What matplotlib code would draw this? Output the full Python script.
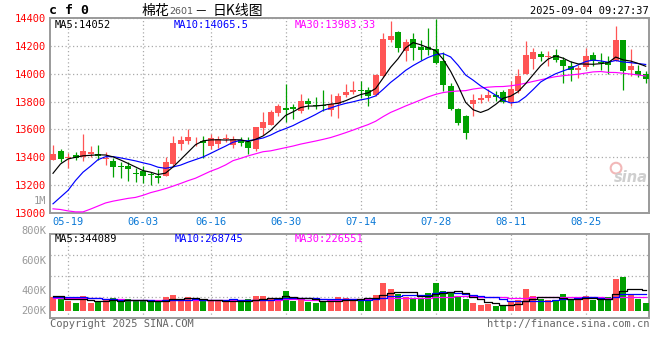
import matplotlib
matplotlib.use("Agg")
import matplotlib.pyplot as plt
import numpy as np
import pandas as pd

# ---------------- data ----------------
opens = [13383, 13445, 13393, 13416, 13400, 13421, 13424, 13386, 13374, 13340,
         13340, 13288, 13305, 13281, 13264, 13269, 13352, 13495, 13519, 13514,
         13519, 13481, 13498, 13529, 13490, 13524, 13507, 13459, 13609, 13633,
         13721, 13757, 13762, 13731, 13807, 13776, 13771, 13738, 13786, 13845,
         13869, 13883, 13886, 13850, 13981, 14243, 14302, 14164, 14250, 14195,
         14195, 14176, 14088, 13910, 13750, 13695, 13781, 13812, 13829, 13845,
         13869, 13797, 13879, 13998, 14107, 14143, 14117, 14136, 14100, 14057,
         14029, 14045, 14136, 14083, 14083, 14093, 14243, 14029, 14017, 13998]
highs = [13488, 13459, 13431, 13440, 13566, 13478, 13488, 13436, 13393, 13364,
         13364, 13321, 13336, 13293, 13316, 13400, 13554, 13554, 13602, 13547,
         13554, 13566, 13550, 13566, 13554, 13547, 13543, 13620, 13726, 13740,
         13783, 13924, 13786, 13852, 13829, 13836, 13881, 13852, 13859, 13924,
         13950, 13945, 13902, 14000, 14291, 14379, 14310, 14250, 14291, 14243,
         14331, 14390, 14159, 13933, 13752, 13702, 13852, 13852, 13893, 13876,
         13881, 13947, 14031, 14236, 14183, 14164, 14164, 14174, 14117, 14088,
         14064, 14183, 14155, 14148, 14124, 14343, 14245, 14174, 14064, 14017]
lows = [13380, 13369, 13326, 13383, 13376, 13400, 13383, 13345, 13260, 13250,
        13233, 13219, 13212, 13202, 13217, 13264, 13340, 13452, 13495, 13483,
        13395, 13459, 13466, 13507, 13466, 13478, 13424, 13447, 13559, 13630,
        13700, 13650, 13673, 13721, 13750, 13750, 13733, 13700, 13685, 13836,
        13852, 13826, 13769, 13838, 13976, 14231, 14159, 14093, 14100, 14100,
        14136, 14069, 13874, 13743, 13633, 13531, 13698, 13793, 13805, 13805,
        13788, 13769, 13864, 13995, 14036, 14088, 14055, 14083, 13933, 13947,
        13969, 14036, 14055, 14029, 13995, 14088, 13881, 13983, 13976, 13933]
closes = [13424, 13388, 13400, 13397, 13445, 13440, 13407, 13393, 13331, 13333,
          13316, 13279, 13264, 13274, 13250, 13364, 13502, 13524, 13543, 13519,
          13502, 13536, 13529, 13533, 13529, 13500, 13469, 13614, 13654, 13726,
          13769, 13738, 13745, 13807, 13779, 13771, 13767, 13783, 13838, 13871,
          13886, 13874, 13843, 13993, 14250, 14271, 14183, 14231, 14183, 14171,
          14167, 14076, 13921, 13750, 13648, 13576, 13812, 13824, 13850, 13836,
          13797, 13888, 13986, 14136, 14159, 14117, 14129, 14100, 14052, 14029,
          14041, 14124, 14093, 14074, 14064, 14243, 14021, 14052, 13988, 13964]
volumes = [236, 210, 165, 132, 248, 132, 144, 198, 215, 144,
           198, 165, 165, 149, 144, 231, 264, 165, 231, 193,
           177, 170, 170, 144, 170, 165, 198, 248, 248, 198,
           193, 335, 165, 203, 153, 137, 165, 144, 231, 210,
           198, 193, 215, 264, 462, 363, 276, 236, 210, 193,
           297, 462, 330, 309, 226, 198, 132, 99, 116, 83,
           83, 144, 182, 363, 248, 203, 186, 165, 276, 193,
           177, 248, 177, 193, 231, 528, 561, 281, 203, 132]  # thousands

# moving-average values before enough history
ma5_head = [13285, 13352, 13388, 13400]
ma10_head = [13066, 13114, 13162, 13233, 13293, 13336, 13383, 13404, 13405]
ma30_head = [13030, 13025, 13015, 13008, 13008, 13028, 13050, 13072, 13085, 13095,
             13105, 13112, 13127, 13146, 13160, 13175, 13193, 13212, 13232, 13250,
             13275, 13300, 13320, 13345, 13376, 13392, 13410, 13425, 13440]
vma5_head = [248, 240, 200, 195]
vma10_head = [226, 226, 226, 226, 226, 222, 215, 200, 190]
vma30_head = [210, 210, 210, 210, 210, 210, 210, 200, 195, 190,
              188, 186, 185, 185, 185, 185, 185, 185, 185, 185,
              185, 185, 185, 185, 185, 185, 185, 185, 185]

tick_labels = ["05-19", "06-03", "06-16", "06-30", "07-14", "07-28", "08-11", "08-25"]
price_ticks = [13000, 13200, 13400, 13600, 13800, 14000, 14200, 14400]
vol_labels = ["800K", "600K", "400K", "200K"]

title_code = "c f 0"
timestamp = "2025-09-04 09:27:37"
ma_texts = ["MA5:14052", "MA10:14065.5", "MA30:13983.33"]
vma_texts = ["MA5:344089", "MA10:268745", "MA30:226551"]

# ---------------- derived ----------------
dates = pd.bdate_range("2025-05-15", "2025-09-04")
dates = dates[dates != pd.Timestamp("2025-06-02")]
date_str = [d.strftime("%m-%d") for d in dates]
n = len(closes)
x = np.arange(n)
tick_pos = [date_str.index(t) for t in tick_labels]


def moving(vals, w, head):
    s = pd.Series(vals, dtype=float).rolling(w).mean().to_numpy()
    s[:len(head)] = head
    return s


ma5 = moving(closes, 5, ma5_head)
ma10 = moving(closes, 10, ma10_head)
ma30 = moving(closes, 30, ma30_head)
vol = np.array(volumes, dtype=float) * 1000
vma5 = moving(volumes, 5, vma5_head) * 1000
vma10 = moving(volumes, 10, vma10_head) * 1000
vma30 = moving(volumes, 30, vma30_head) * 1000

RED = "#ff5555"
GREEN = "#00a000"
MONO = "DejaVu Sans Mono"
CJK = ["Noto Sans CJK SC", "DejaVu Sans"]
up = np.array(closes) >= np.array(opens)
colors = [RED if u else GREEN for u in up]

W, H = 660, 360
fig = plt.figure(figsize=(6.6, 3.6), dpi=100)
fig.patch.set_facecolor("white")


def fx(px):
    return px / W


def fy(py):
    return 1 - py / H


ax = fig.add_axes([fx(50), fy(213), fx(599), 195 / H])
axv = fig.add_axes([fx(50), fy(317.5), fx(599), 83.5 / H])

xlim = (-0.4, n - 1 + 0.44)

# ---- candles ----
o = np.array(opens, float)
c = np.array(closes, float)
ax.vlines(x, lows, highs, colors=colors, lw=0.9, zorder=3)
body_bottom = np.minimum(o, c)
body_h = np.maximum(np.abs(c - o), 6)
ax.bar(x, body_h, bottom=body_bottom, width=0.8, color=colors, lw=0, zorder=4)

ax.plot(x, ma30, color="#ff00ff", lw=0.85, zorder=5)
ax.plot(x, ma10, color="#0000ff", lw=0.85, zorder=5)
ax.plot(x, ma5, color="black", lw=0.85, zorder=6)

ax.set_xlim(*xlim)
ax.set_ylim(13000, 14400)
ax.set_yticks(price_ticks)
ax.set_yticklabels([str(p) for p in price_ticks], color="red", fontsize=7.5,
                   family=MONO)
ax.set_xticks(tick_pos)
ax.set_xticklabels(tick_labels, color="#0a78d6", fontsize=7.5, family=MONO)
ax.tick_params(length=0, pad=3)
ax.tick_params(axis="y", pad=3)
ax.grid(True, linestyle=(0, (1, 2)), color="#aaaaaa", lw=0.9)
ax.set_axisbelow(True)

# ---- volume ----
axv.bar(x, vol, width=0.8, color=colors, lw=0, zorder=3)
axv.plot(x, vma30, color="#ff00ff", lw=0.9, drawstyle="steps-mid", zorder=4)
axv.plot(x, vma10, color="#0000ff", lw=0.9, drawstyle="steps-mid", zorder=4)
axv.plot(x, vma5, color="black", lw=0.9, drawstyle="steps-mid", zorder=5)
vlo, vhi = -107e3, 1270e3
axv.set_xlim(*xlim)
axv.set_ylim(vlo, vhi)
axv.set_yticks([vlo + f * (vhi - vlo) for f in (0.25, 0.5, 0.75)])
axv.set_yticklabels([])
axv.set_xticks(tick_pos)
axv.set_xticklabels([])
axv.tick_params(length=0)
axv.grid(True, linestyle=(0, (1, 2)), color="#aaaaaa", lw=0.9)
axv.set_axisbelow(True)

for a in (ax, axv):
    for s in a.spines.values():
        s.set_color("#9a9a9a")
        s.set_linewidth(1.4)

# volume axis labels (Sina positions)
for lab, py in zip(vol_labels, [231, 261, 291, 311]):
    fig.text(fx(46), fy(py), lab, ha="right", va="center", color="#999999",
             fontsize=7.5, family=MONO)
fig.text(fx(46), fy(200.5), "1M", ha="right", va="center", color="#999999",
         fontsize=7.5, family=MONO)

# ---- titles / legends ----
fig.text(fx(49), fy(11), title_code, ha="left", va="center", fontsize=9.5,
         fontweight="bold", family=MONO, color="black")
fig.text(fx(141), fy(11), "棉花", ha="left", va="center", fontsize=10,
         family=CJK, color="black")
fig.text(fx(169), fy(11.5), "2601", ha="left", va="center", fontsize=6.8,
         family="DejaVu Sans", color="#555555")
fig.text(fx(201), fy(11), "－", ha="center", va="center", fontsize=9,
         family=CJK, color="black")
fig.text(fx(213), fy(11), "日K线图", ha="left", va="center", fontsize=10,
         family=CJK, color="black")
fig.text(fx(649), fy(11), timestamp, ha="right", va="center", fontsize=7.5,
         family=MONO, color="black")

for txt, px, col in zip(ma_texts, [55, 174, 295], ["black", "#0000ff", "#ff00ff"]):
    fig.text(fx(px), fy(25), txt, ha="left", va="center", fontsize=7.5,
             family=MONO, color=col)
for txt, px, col in zip(vma_texts, [55, 175, 295], ["black", "#0000ff", "#ff00ff"]):
    fig.text(fx(px), fy(239), txt, ha="left", va="center", fontsize=7.5,
             family=MONO, color=col)

fig.text(fx(50), fy(324), "Copyright 2025 SINA.COM", ha="left", va="center",
         fontsize=7.5, family=MONO, color="#666666")
fig.text(fx(649), fy(324), "http://finance.sina.com.cn", ha="right",
         va="center", fontsize=7.5, family=MONO, color="#666666")

# sina watermark
fig.text(fx(648), fy(177), "sina", ha="right", va="center", fontsize=10.5,
         style="italic", fontweight="bold", color="#cfcfcf", family="DejaVu Sans")
ax.scatter([0.945], [0.23], s=60, transform=ax.transAxes, facecolors="none",
           edgecolors="#f2b8b8", linewidths=1.5, zorder=2)

fig.savefig("out.png", dpi=100, facecolor="white")
